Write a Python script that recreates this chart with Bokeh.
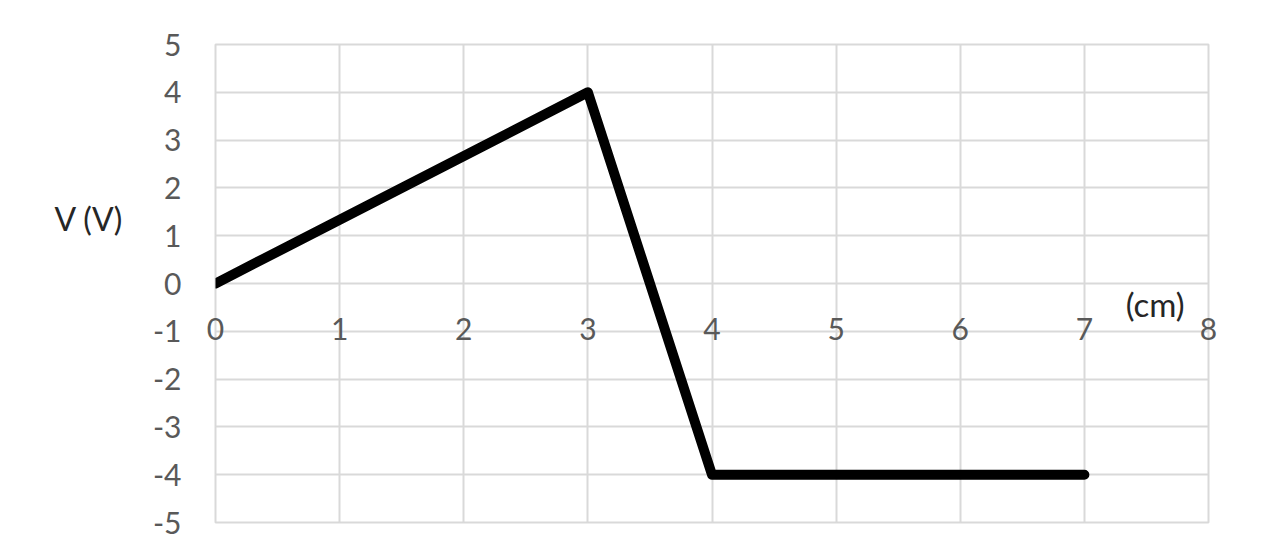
from bokeh.plotting import figure
from bokeh.models import (Range1d, SingleIntervalTicker, FixedTicker, Label,
                          PrintfTickFormatter, LinearAxis)
from bokeh.embed import file_html
from bokeh.resources import INLINE

# data
x_cm = [0, 3, 4, 7]
v_volts = [0, 4, -4, -4]
y_label_text = "V (V)"
y_label_at = 1.36
x_label_text = "(cm)"

FONT = "Lato"

p = figure(
    output_backend="svg", toolbar_location=None,
    frame_width=993, frame_height=478,
    min_border_left=215, min_border_right=46, min_border_top=44, min_border_bottom=20,
    x_range=Range1d(0, 8), y_range=Range1d(-5, 5),
)
p.outline_line_color = "#d9d9d9"
p.outline_line_width = 2
p.background_fill_color = "white"
p.border_fill_color = "white"

for g in (p.xgrid, p.ygrid):
    g.grid_line_color = "#d9d9d9"
    g.grid_line_width = 2

p.xaxis.ticker = SingleIntervalTicker(interval=1)
p.yaxis.ticker = SingleIntervalTicker(interval=1)
p.xgrid.ticker = SingleIntervalTicker(interval=1)
p.ygrid.ticker = SingleIntervalTicker(interval=1)

for ax in (p.xaxis, p.yaxis):
    ax.axis_line_color = None
    ax.major_tick_line_color = None
    ax.minor_tick_line_color = None
    ax.major_tick_in = 0
    ax.major_tick_out = 0
    ax.major_label_text_font = FONT
    ax.major_label_text_font_size = "30px"
    ax.major_label_text_color = "#595959"
    ax.formatter = PrintfTickFormatter(format="%d")

p.xaxis.major_label_standoff = -209
p.yaxis.major_label_standoff = 30

# y-axis title placed beside the axis at its own height
title_axis = LinearAxis(ticker=FixedTicker(ticks=[y_label_at]),
                        major_label_overrides={y_label_at: y_label_text})
title_axis.axis_line_color = None
title_axis.major_tick_line_color = None
title_axis.minor_tick_line_color = None
title_axis.major_tick_in = 0
title_axis.major_tick_out = 0
title_axis.major_label_text_font = FONT
title_axis.major_label_text_font_size = "32px"
title_axis.major_label_text_color = "#262626"
title_axis.major_label_standoff = 26
p.add_layout(title_axis, "left")

p.line(x_cm, v_volts, line_color="black", line_width=10,
       line_join="round", line_cap="round")

p.add_layout(Label(x=7.57, y=-0.42, text=x_label_text, text_align="center",
                   text_baseline="middle", text_font=FONT, text_font_size="33px",
                   text_color="#262626"))

open("out.html", "w").write(file_html(p, INLINE))
